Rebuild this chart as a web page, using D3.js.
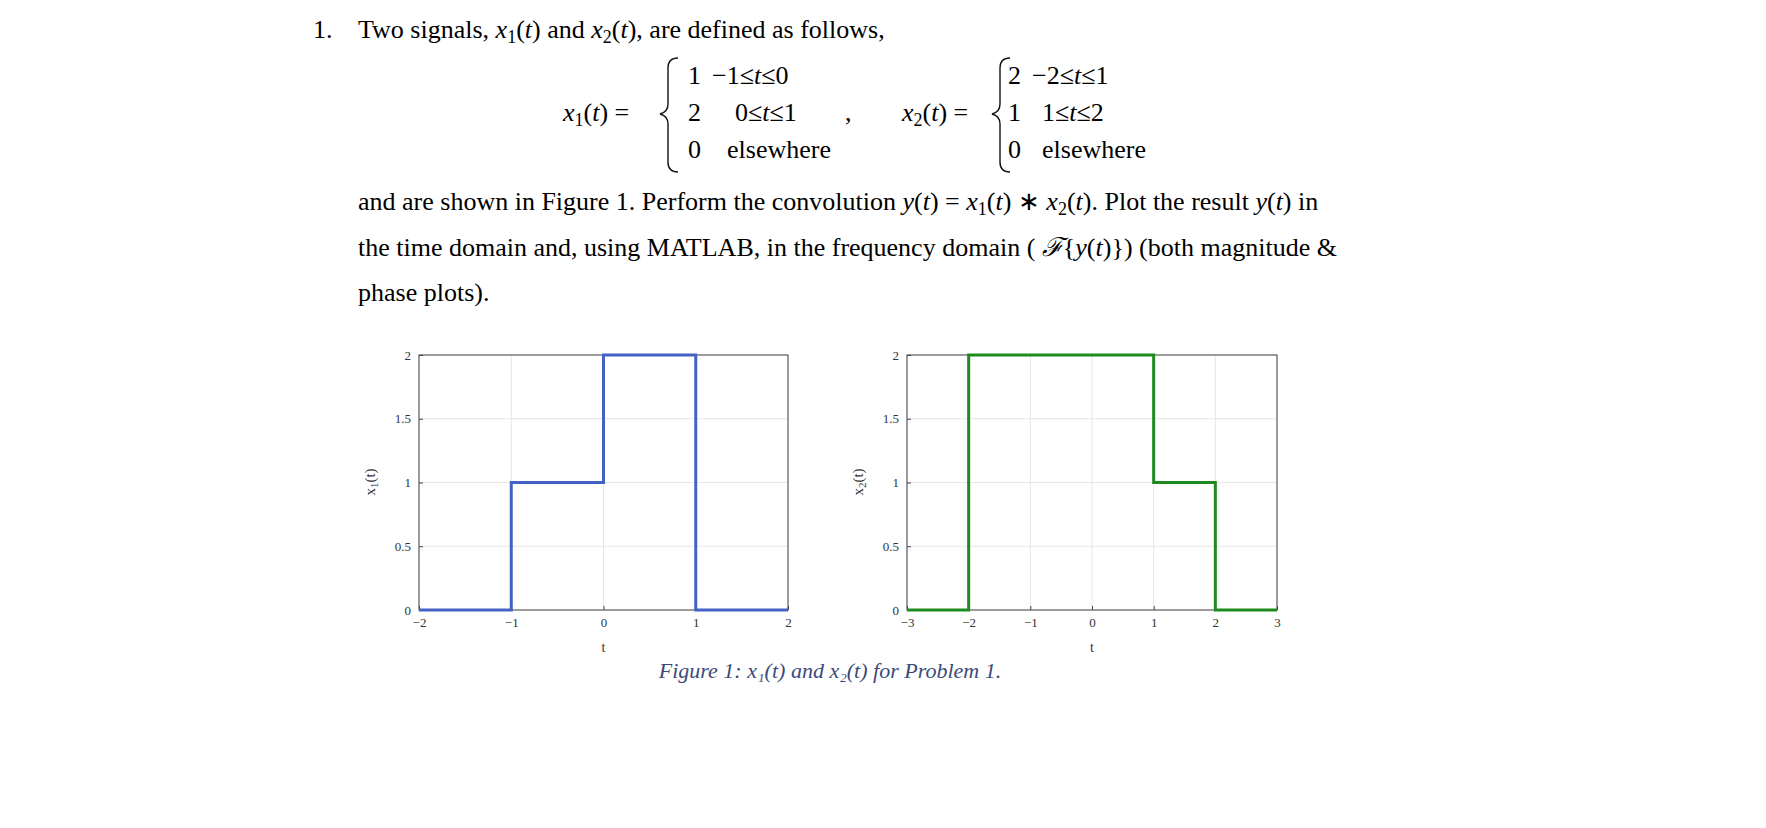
<!DOCTYPE html><html><head><meta charset="utf-8"><script src="https://cdn.jsdelivr.net/npm/d3@7"></script>
<style>body{margin:0;background:#fff}text{font-family:"Liberation Serif","Times New Roman",serif}</style></head><body>
<svg id="s" width="1766" height="828"></svg>
<script>
const x1T=[-2,-1,-1,0,0,1,1,2], x1V=[0,0,1,1,2,2,0,0];
const x2T=[-3,-2,-2,1,1,2,2,3], x2V=[0,0,2,2,1,1,0,0];
const x1Ticks=[-2,-1,0,1,2], x2Ticks=[-3,-2,-1,0,1,2,3], yTicks=[0,0.5,1,1.5,2];
const svg=d3.select("#s");
function T(x,y,html,size,anchor){svg.append("text").attr("x",x).attr("y",y).attr("font-size",size||26).attr("text-anchor",anchor||"start").html(html);}
const it='font-style="italic"', sub=(n)=>`<tspan baseline-shift="-30%" font-size="18">${n}</tspan>`;
T(313,38,"1.");
T(358,38,`Two signals, <tspan ${it}>x</tspan>${sub(1)}(<tspan ${it}>t</tspan>) and <tspan ${it}>x</tspan>${sub(2)}(<tspan ${it}>t</tspan>), are defined as follows,`);
T(563,121,`<tspan ${it}>x</tspan>${sub(1)}(<tspan ${it}>t</tspan>) =`);
T(902,121,`<tspan ${it}>x</tspan>${sub(2)}(<tspan ${it}>t</tspan>) =`);
function brace(x){svg.append("path").attr("d",`M${x+10},58 Q${x},58 ${x},68 L${x},104 Q${x},112 ${x-8},114 Q${x},116 ${x},124 L${x},162 Q${x},172 ${x+10},172`).attr("fill","none").attr("stroke","#111").attr("stroke-width",1.4);}
brace(668);brace(1000);
[["1",`−1≤<tspan ${it}>t</tspan>≤0`],["2",`0≤<tspan ${it}>t</tspan>≤1`],["0","elsewhere"]].forEach((r,i)=>{T(688,84+i*37,r[0]);T(i==2?727:(i==0?712:735),84+i*37,r[1]);});
T(845,121,",");
[["2",`−2≤<tspan ${it}>t</tspan>≤1`],["1",`1≤<tspan ${it}>t</tspan>≤2`],["0","elsewhere"]].forEach((r,i)=>{T(1008,84+i*37,r[0]);T(i==0?1032:1042,84+i*37,r[1]);});
T(358,210,`and are shown in Figure 1.  Perform the convolution <tspan ${it}>y</tspan>(<tspan ${it}>t</tspan>) = <tspan ${it}>x</tspan>${sub(1)}(<tspan ${it}>t</tspan>) ∗ <tspan ${it}>x</tspan>${sub(2)}(<tspan ${it}>t</tspan>).  Plot the result  <tspan ${it}>y</tspan>(<tspan ${it}>t</tspan>)  in`);
T(358,256,`the time domain and, using MATLAB, in the frequency domain ( <tspan ${it}>ℱ</tspan>{<tspan ${it}>y</tspan>(<tspan ${it}>t</tspan>)}) (both magnitude &amp;`);
T(358,301,"phase plots).");
T(830,678,`<tspan ${it} fill="#3b4a7a">Figure 1: x₁(t) and x₂(t) for Problem 1.</tspan>`,22,"middle");
function plot(x0,x1,dom,ticks,T_,V_,color,ylab){
  const xs=d3.scaleLinear().domain(dom).range([x0,x1]);
  const ys=d3.scaleLinear().domain([0,2]).range([610,355]);
  const g=svg.append("g");
  ticks.forEach(t=>g.append("line").attr("x1",xs(t)).attr("x2",xs(t)).attr("y1",355).attr("y2",610).attr("stroke","#e6e6e6"));
  yTicks.forEach(t=>g.append("line").attr("x1",x0).attr("x2",x1).attr("y1",ys(t)).attr("y2",ys(t)).attr("stroke","#e6e6e6"));
  g.append("rect").attr("x",x0).attr("y",355).attr("width",x1-x0).attr("height",255).attr("fill","none").attr("stroke","#444").attr("stroke-width",1);
  const ax=g.append("g").attr("transform","translate(0,610)").call(d3.axisBottom(xs).tickValues(ticks).tickSize(-4).tickPadding(8).tickFormat(d3.format("~g")));
  const ay=g.append("g").attr("transform",`translate(${x0},0)`).call(d3.axisLeft(ys).tickValues(yTicks).tickSize(-4).tickPadding(8).tickFormat(d3.format("~g")));
  [ax,ay].forEach(a=>{a.select(".domain").remove();a.selectAll("text").attr("font-family","Liberation Sans,Arial,sans-serif").attr("font-size",13).attr("fill","#333");a.selectAll("line").attr("stroke","#444");});
  g.append("text").attr("x",(x0+x1)/2).attr("y",652).attr("text-anchor","middle").attr("font-family","Liberation Sans,Arial,sans-serif").attr("font-size",14).attr("fill","#333").text("t");
  g.append("text").attr("transform",`translate(${x0-44},482) rotate(-90)`).attr("text-anchor","middle").attr("font-family","Liberation Sans,Arial,sans-serif").attr("font-size",15).attr("fill","#333").html(`x<tspan baseline-shift="-30%" font-size="11">${ylab}</tspan>(t)`);
  g.append("path").datum(T_.map((t,i)=>[t,V_[i]])).attr("d",d3.line().x(d=>xs(d[0])).y(d=>ys(d[1]))).attr("fill","none").attr("stroke",color).attr("stroke-width",3);
}
plot(419,788,[-2,2],x1Ticks,x1T,x1V,"#4462c4","1");
plot(907,1277,[-3,3],x2Ticks,x2T,x2V,"#1f8a1f","2");
</script></body></html>
